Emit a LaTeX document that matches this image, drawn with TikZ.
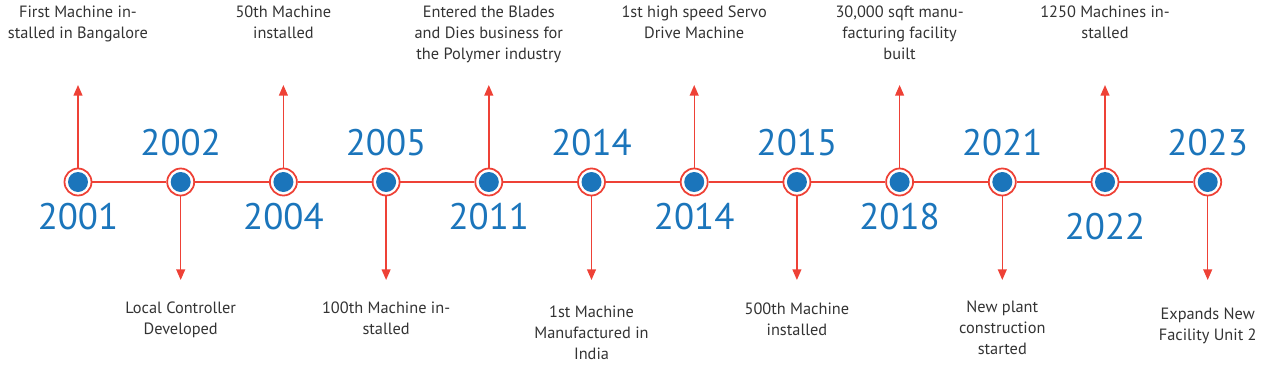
\documentclass[tikz,border=0pt]{standalone}
\usepackage{fontspec}
\setmainfont{PT Sans}
\usetikzlibrary{arrows.meta}
\definecolor{tlred}{HTML}{EE4136}
\definecolor{tlblue}{HTML}{1B75BB}
\definecolor{tltext}{HTML}{333333}
\begin{document}
\begin{tikzpicture}[
    dot/.style={circle,draw=tlred,line width=1pt,fill=white,inner sep=0pt,minimum size=0.54cm,
      path picture={\fill[tlblue] (path picture bounding box.center) circle (0.2);}},
    year/.style={text=tlblue,font=\fontsize{21}{24}\selectfont},
    note/.style={text=tltext,font=\fontsize{9.3}{11.9}\selectfont,align=center,inner sep=0pt},
    link/.style={tlred,line width=0.8pt},
    pin/.style={tlred,line width=0.8pt,-{Triangle[width=5pt,length=6pt]}}
  ]
  \useasboundingbox (0,0) rectangle (25.6,7.32);
  % milestones on the line
  \node [dot] (c1) at (1.56,3.68) {};
  \node [dot] (c2) at (3.614,3.68) {};
  \node [dot] (c3) at (5.668,3.68) {};
  \node [dot] (c4) at (7.722,3.68) {};
  \node [dot] (c5) at (9.776,3.68) {};
  \node [dot] (c6) at (11.83,3.68) {};
  \node [dot] (c7) at (13.884,3.68) {};
  \node [dot] (c8) at (15.938,3.68) {};
  \node [dot] (c9) at (17.992,3.68) {};
  \node [dot] (c10) at (20.046,3.68) {};
  \node [dot] (c11) at (22.1,3.68) {};
  \node [dot] (c12) at (24.154,3.68) {};
  \draw [link] (c1) -- (c2) -- (c3) -- (c4) -- (c5) -- (c6) -- (c7) -- (c8) -- (c9) -- (c10) -- (c11) -- (c12);
  % years
  \node [year] (y1) at (1.56,2.98) {2001};
  \node [year] (y2) at (3.614,4.46) {2002};
  \node [year] (y3) at (5.668,2.98) {2004};
  \node [year] (y4) at (7.722,4.46) {2005};
  \node [year] (y5) at (9.776,2.98) {2011};
  \node [year] (y6) at (11.83,4.46) {2014};
  \node [year] (y7) at (13.884,2.98) {2014};
  \node [year] (y8) at (15.938,4.46) {2015};
  \node [year] (y9) at (17.992,2.98) {2018};
  \node [year] (y10) at (20.046,4.46) {2021};
  \node [year] (y11) at (22.1,2.78) {2022};
  \node [year] (y12) at (24.154,4.46) {2023};
  % arrow ends
  \coordinate (e1) at (1.56,5.62);
  \coordinate (e2) at (3.614,1.72);
  \coordinate (e3) at (5.668,5.62);
  \coordinate (e4) at (7.722,1.72);
  \coordinate (e5) at (9.776,5.62);
  \coordinate (e6) at (11.83,1.72);
  \coordinate (e7) at (13.884,5.62);
  \coordinate (e8) at (15.938,1.72);
  \coordinate (e9) at (17.992,5.62);
  \coordinate (e10) at (20.046,1.72);
  \coordinate (e11) at (22.1,5.62);
  \coordinate (e12) at (24.154,1.72);
  \foreach \i in {1,...,12} \draw [pin] (c\i) -- (e\i);
  % texts above
  \node [note,anchor=north] (n1) at (1.56,7.2) {First Machine in-\\stalled in Bangalore};
  \node [note,anchor=north] (n3) at (5.668,7.2) {50th Machine\\installed};
  \node [note,anchor=north] (n5) at (9.776,7.2) {Entered the Blades\\and Dies business for\\the Polymer industry};
  \node [note,anchor=north] (n7) at (13.884,7.2) {1st high speed Servo\\Drive Machine};
  \node [note,anchor=north] (n9) at (17.992,7.2) {30,000 sqft manu-\\facturing facility\\built};
  \node [note,anchor=north] (n11) at (22.1,7.2) {1250 Machines in-\\stalled};
  % texts below
  \node [note,anchor=north] (n2) at (3.614,1.29) {Local Controller\\Developed};
  \node [note,anchor=north] (n4) at (7.722,1.29) {100th Machine in-\\stalled};
  \node [note,anchor=north] (n6) at (11.83,1.21) {1st Machine\\Manufactured in\\India};
  \node [note,anchor=north] (n8) at (15.938,1.27) {500th Machine\\installed};
  \node [note,anchor=north] (n10) at (20.046,1.31) {New plant\\construction\\started};
  \node [note,anchor=north] (n12) at (24.154,1.17) {Expands New\\Facility Unit 2};
\end{tikzpicture}
\end{document}
